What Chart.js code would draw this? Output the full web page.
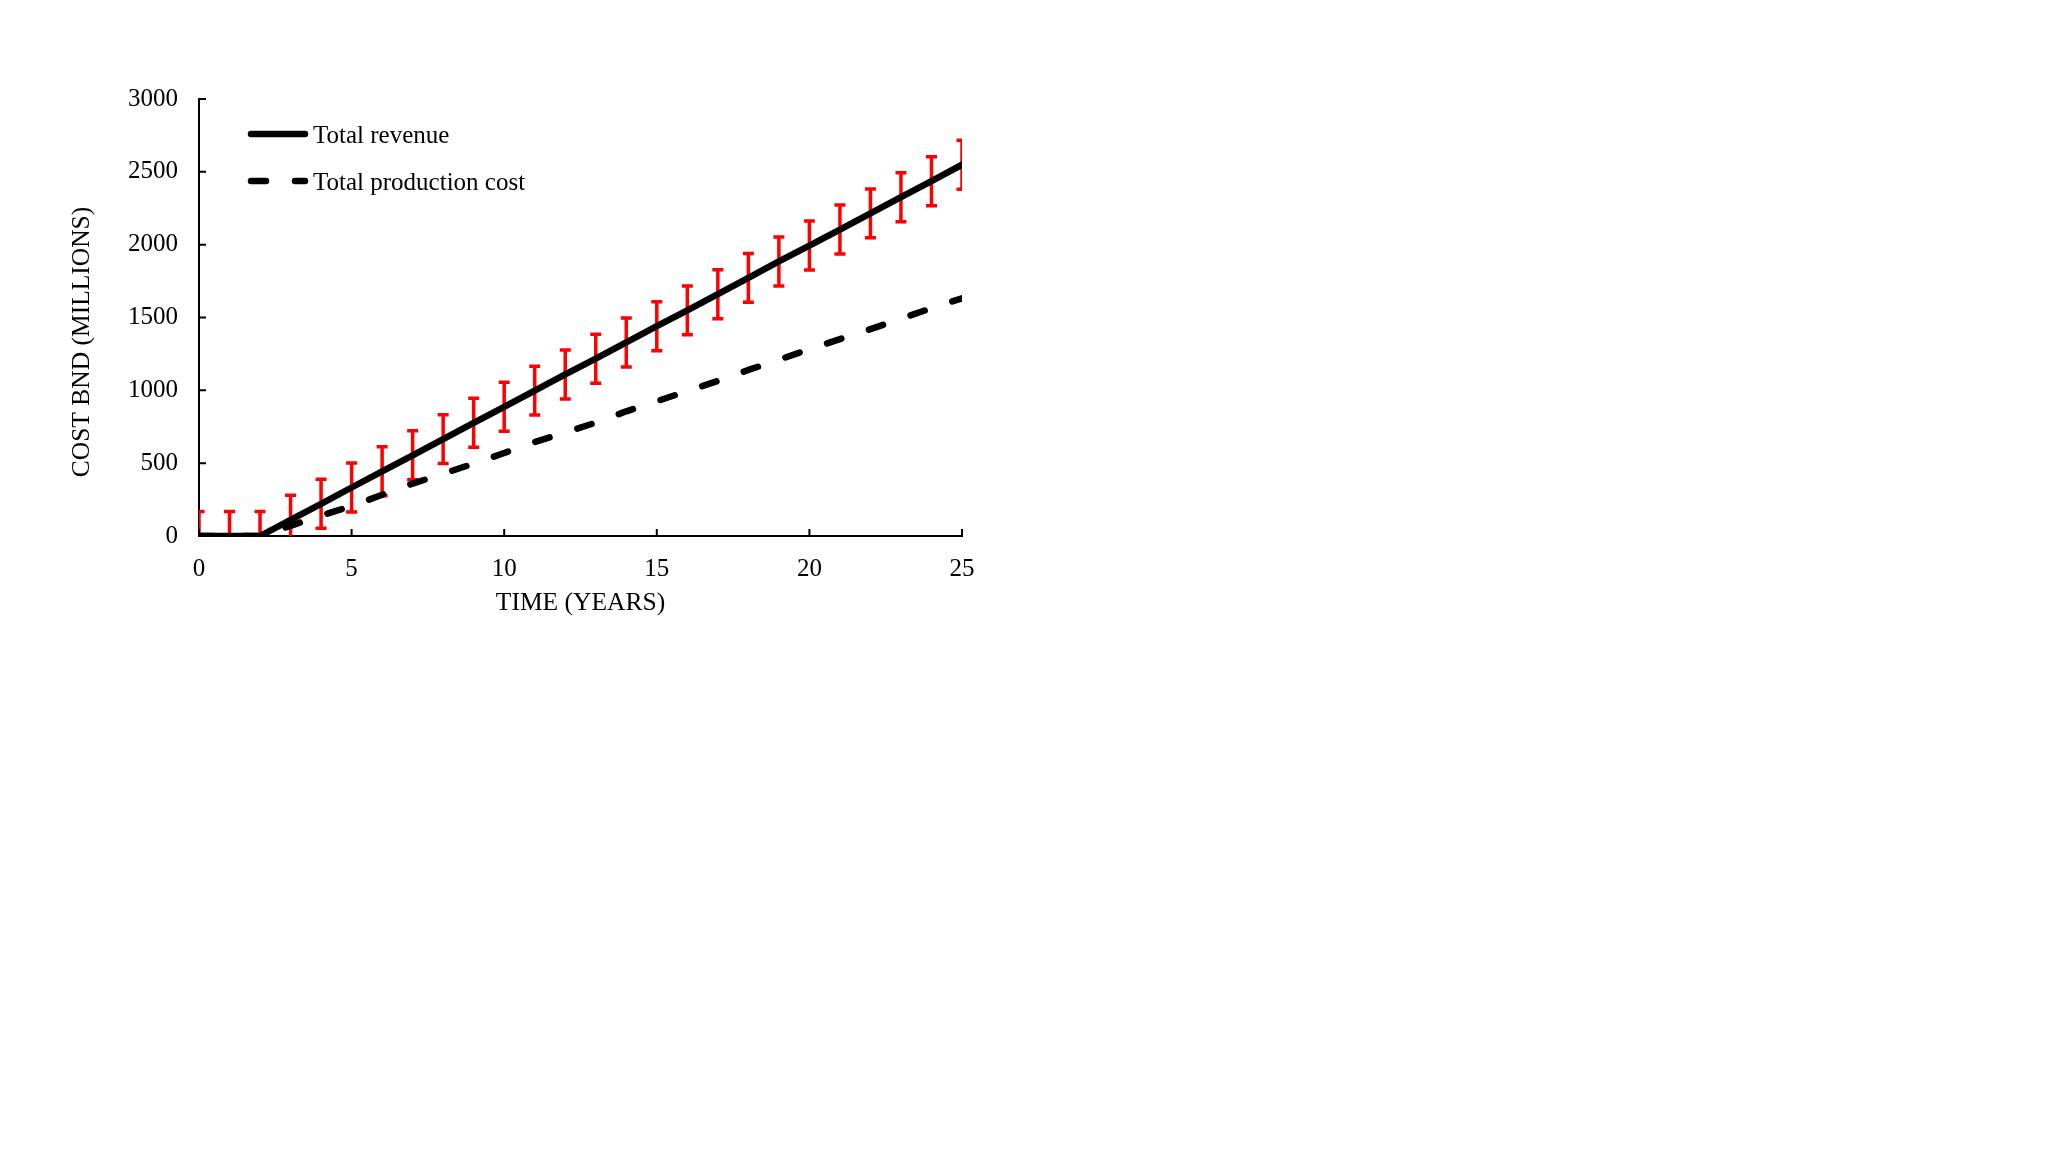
<!DOCTYPE html>
<html>
<head>
<meta charset="utf-8">
<script src="https://cdn.jsdelivr.net/npm/chart.js@4.4.0/dist/chart.umd.min.js"></script>
<style>
  html, body { margin: 0; padding: 0; background: #fff; }
  canvas { display: block; }
</style>
</head>
<body>
<canvas id="myChart" width="2048" height="1152"></canvas>
<script>
// values
const years = [0, 1, 2, 3, 4, 5, 6, 7, 8, 9, 10, 11, 12, 13, 14, 15, 16, 17, 18, 19, 20, 21, 22, 23, 24, 25];
const revenue = [0, 0, 0, 111, 221, 333, 444, 554, 665, 777, 887, 998, 1109, 1217, 1329, 1440, 1549, 1660, 1772, 1885, 1994, 2104, 2215, 2326, 2436, 2549];
const revenueErr = [168, 168, 168, 168, 168, 168, 168, 168, 168, 168, 168, 168, 168, 168, 168, 168, 168, 168, 168, 168, 168, 168, 168, 168, 168, 168];
const productionCost = [0, 0, 0, 70, 140, 205, 283, 360, 427, 497, 570, 645, 711, 778, 856, 925, 995, 1064, 1140, 1210, 1282, 1352, 1420, 1492, 1564, 1632];
const xTicks = [0, 5, 10, 15, 20, 25];
const yTicks = [0, 500, 1000, 1500, 2000, 2500, 3000];
const seriesNames = ['Total revenue', 'Total production cost'];
const xTitle = 'TIME (YEARS)';
const yTitle = 'COST BND (MILLIONS)';

Chart.defaults.font.family = '"Liberation Serif", "Times New Roman", serif';
Chart.defaults.font.size = 25;
Chart.defaults.color = '#000';

const extras = {
  id: 'extras',
  beforeDatasetsDraw(chart) {
    const { ctx, chartArea: a, scales: { x, y } } = chart;
    ctx.save();
    ctx.beginPath();
    ctx.rect(a.left, a.top, a.right - a.left, a.bottom - a.top);
    ctx.clip();
    ctx.strokeStyle = '#ff0000';
    ctx.lineWidth = 3.5;
    years.forEach((yr, i) => {
      const px = x.getPixelForValue(yr);
      const top = y.getPixelForValue(revenue[i] + revenueErr[i]);
      const bot = y.getPixelForValue(revenue[i] - revenueErr[i]);
      ctx.beginPath();
      ctx.moveTo(px, top); ctx.lineTo(px, bot);
      ctx.moveTo(px - 5.5, top); ctx.lineTo(px + 5.5, top);
      ctx.moveTo(px - 5.5, bot); ctx.lineTo(px + 5.5, bot);
      ctx.stroke();
    });
    ctx.restore();
  },
  afterDraw(chart) {
    const { ctx, chartArea: a, scales: { x, y } } = chart;
    ctx.save();
    // inside tick marks
    ctx.strokeStyle = '#000';
    ctx.lineWidth = 2;
    ctx.beginPath();
    xTicks.forEach(v => {
      const px = x.getPixelForValue(v);
      ctx.moveTo(px, a.bottom); ctx.lineTo(px, a.bottom - 7);
    });
    yTicks.forEach(v => {
      const py = y.getPixelForValue(v);
      ctx.moveTo(a.left, py); ctx.lineTo(a.left + 7, py);
    });
    ctx.stroke();

    // axis titles
    ctx.fillStyle = '#000';
    ctx.font = '25.5px "Liberation Serif", serif';
    ctx.textAlign = 'center';
    ctx.textBaseline = 'middle';
    ctx.fillText(xTitle, (a.left + a.right) / 2, a.bottom + 67);
    ctx.save();
    ctx.translate(a.left - 117, a.top + 243);
    ctx.rotate(-Math.PI / 2);
    ctx.fillText(yTitle, 0, 0);
    ctx.restore();

    // legend inside the plot
    chart.data.datasets.forEach((ds, i) => {
      const ly = a.top + 35 + i * 47;
      ctx.beginPath();
      ctx.strokeStyle = ds.borderColor;
      ctx.lineWidth = ds.borderWidth;
      ctx.lineCap = 'round';
      ctx.setLineDash(ds.borderDash || []);
      ctx.moveTo(a.left + 52, ly);
      ctx.lineTo(a.left + 106, ly);
      ctx.stroke();
      ctx.setLineDash([]);
      ctx.textAlign = 'left';
      ctx.font = '25px "Liberation Serif", serif';
      ctx.fillText(ds.label, a.left + 114, ly + 2);
    });
    ctx.restore();
  }
};

const ctx = document.getElementById('myChart');
const myChart = new Chart(ctx, {
  type: 'line',
  data: {
    datasets: [
      {
        label: seriesNames[0],
        data: years.map((yr, i) => ({ x: yr, y: revenue[i] })),
        borderColor: '#000',
        borderWidth: 6.5,
        borderCapStyle: 'round',
        borderJoinStyle: 'round',
        pointRadius: 0,
        tension: 0,
      },
      {
        label: seriesNames[1],
        data: years.map((yr, i) => ({ x: yr, y: productionCost[i] })),
        borderColor: '#000',
        borderWidth: 6.5,
        borderDash: [15, 29],
        borderCapStyle: 'round',
        borderJoinStyle: 'round',
        pointRadius: 0,
        tension: 0,
      }
    ]
  },
  options: {
    responsive: false,
    animation: false,
    devicePixelRatio: 1,
    layout: {
      padding: { left: 0, top: 99, right: 1086, bottom: 556 }
    },
    plugins: {
      legend: { display: false },
      tooltip: { enabled: false }
    },
    scales: {
      x: {
        type: 'linear',
        min: 0,
        max: 25,
        afterBuildTicks: s => { s.ticks = xTicks.map(v => ({ value: v })); },
        afterFit: s => { s.height = 60; },
        grid: { display: false },
        border: { display: true, color: '#000', width: 2 },
        ticks: { padding: 10, maxRotation: 0, callback: v => String(v) }
      },
      y: {
        min: 0,
        max: 3000,
        afterBuildTicks: s => { s.ticks = yTicks.map(v => ({ value: v })); },
        afterFit: s => { s.width = 199; },
        grid: { display: false },
        border: { display: true, color: '#000', width: 2 },
        ticks: { padding: 13, callback: v => String(v) }
      }
    }
  },
  plugins: [extras]
});
</script>
</body>
</html>
